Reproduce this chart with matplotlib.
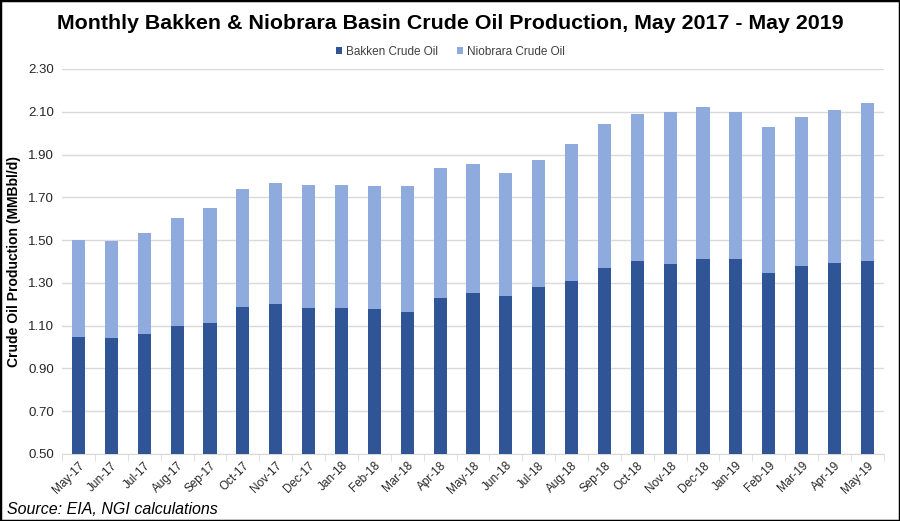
import matplotlib.pyplot as plt
import numpy as np
from matplotlib.patches import Rectangle
from matplotlib.transforms import ScaledTranslation

plt.rcParams['font.family'] = ['Liberation Sans', 'DejaVu Sans']

months = ['May-17', 'Jun-17', 'Jul-17', 'Aug-17', 'Sep-17', 'Oct-17', 'Nov-17',
          'Dec-17', 'Jan-18', 'Feb-18', 'Mar-18', 'Apr-18', 'May-18', 'Jun-18',
          'Jul-18', 'Aug-18', 'Sep-18', 'Oct-18', 'Nov-18', 'Dec-18', 'Jan-19',
          'Feb-19', 'Mar-19', 'Apr-19', 'May-19']

# (MMbbl/d)
bakken = [1.047, 1.042, 1.061, 1.100, 1.114, 1.189, 1.201, 1.182, 1.182, 1.178,
          1.164, 1.229, 1.253, 1.239, 1.282, 1.310, 1.370, 1.404, 1.389, 1.413,
          1.413, 1.346, 1.378, 1.392, 1.404]
total = [1.500, 1.498, 1.532, 1.603, 1.651, 1.738, 1.768, 1.757, 1.757, 1.754,
         1.754, 1.837, 1.854, 1.816, 1.876, 1.951, 2.041, 2.091, 2.100, 2.124,
         2.100, 2.030, 2.076, 2.110, 2.139]
niobrara = [t - b for t, b in zip(total, bakken)]

yticks = [0.50, 0.70, 0.90, 1.10, 1.30, 1.50, 1.70, 1.90, 2.10, 2.30]

dark = '#2F5597'
light = '#8FAADC'

fig = plt.figure(figsize=(9, 5.21), dpi=100)
ax = fig.add_axes([0.069, 0.1286, 0.913, 0.739])

x = np.arange(len(months))
ax.bar(x, bakken, width=0.4, color=dark, label='Bakken Crude Oil', zorder=3)
ax.bar(x, niobrara, width=0.4, bottom=bakken, color=light,
       label='Niobrara Crude Oil', zorder=3)

ax.set_ylim(0.5, 2.3)
ax.set_xlim(-0.5, len(months) - 0.5)
ax.set_yticks(yticks)
ax.set_yticklabels(['%.2f' % v for v in yticks], fontsize=9.5, color='#262626')
ax.grid(axis='y', color='#D9D9D9', linewidth=1, zorder=0)
ax.set_xticks(x)
ax.set_xticklabels(months, rotation=45, ha='right', rotation_mode='anchor',
                   fontsize=8.5, color='#262626')
shift = ScaledTranslation(5 / 100, 0, fig.dpi_scale_trans)
for lab in ax.get_xticklabels():
    lab.set_transform(lab.get_transform() + shift)
ax.tick_params(axis='x', length=0, pad=4)
ax.tick_params(axis='y', length=0, pad=6)
ax.set_xticks(np.arange(-0.5, len(months), 1), minor=True)
ax.tick_params(axis='x', which='minor', length=5, color='#D9D9D9')
for s in ['top', 'right', 'left']:
    ax.spines[s].set_visible(False)
ax.spines['bottom'].set_color('#D9D9D9')

ax.set_ylabel('Crude Oil Production (MMBbl/d)', fontsize=10, fontweight='bold',
              labelpad=5)

fig.text(0.5, 0.955, 'Monthly Bakken & Niobrara Basin Crude Oil Production, May 2017 - May 2019',
         ha='center', va='center', fontsize=15.4, fontweight='bold')

fig.legend(*ax.get_legend_handles_labels(), loc='center',
           bbox_to_anchor=(0.5, 0.9), ncol=2, frameon=False,
           fontsize=8.5, handlelength=0.55, handleheight=0.55, handletextpad=0.3,
           columnspacing=1.6, labelcolor='#404040')

fig.text(0.008, 0.007, 'Source: EIA, NGI calculations', ha='left', va='bottom',
         fontsize=11.5, style='italic')

fig.patches.append(Rectangle((0, 0), 1, 1, transform=fig.transFigure, fill=False,
                             edgecolor='black', linewidth=2.5))

fig.savefig('out.png', dpi=100)
